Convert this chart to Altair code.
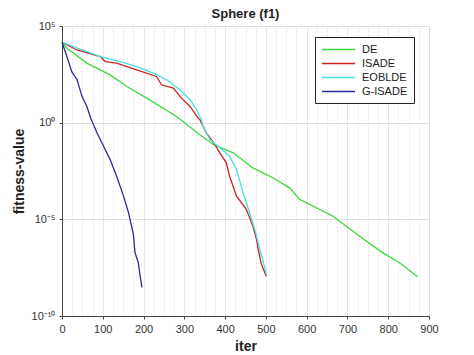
import altair as alt
import pandas as pd

series_names = ["DE", "ISADE", "EOBLDE", "G-ISADE"]
colors = ["#3fd83f", "#cc2222", "#44e0e0", "#2a2a9c"]

de_iter = [0, 12, 61, 118, 159, 208, 281, 338, 371, 420, 468, 517, 558, 583, 631, 664, 729, 786, 827, 872]
de_log = [4.16, 3.85, 3.08, 2.47, 1.87, 1.27, 0.32, -0.62, -1.13, -1.56, -2.34, -2.85, -3.37, -3.97, -4.48, -4.83, -5.86, -6.72, -7.23, -7.97]

isade_iter = [0, 37, 94, 106, 134, 183, 232, 244, 273, 293, 314, 334, 338, 354, 375, 387, 403, 411, 428, 452, 468, 477, 481, 489, 501]
isade_log = [4.16, 3.76, 3.42, 3.16, 3.08, 2.73, 2.39, 1.96, 1.79, 1.27, 0.84, 0.24, 0.15, -0.53, -1.13, -1.56, -2.08, -2.77, -3.80, -4.48, -5.35, -6.03, -6.55, -7.32, -7.95]

eob_iter = [0, 61, 94, 143, 183, 224, 257, 289, 314, 330, 342, 346, 363, 387, 411, 428, 444, 460, 475, 485, 494, 501]
eob_log = [4.16, 3.68, 3.42, 3.16, 2.90, 2.56, 2.22, 1.70, 1.19, 0.67, 0.15, -0.19, -0.88, -1.30, -1.73, -2.42, -3.62, -4.65, -5.69, -6.55, -7.23, -7.84]

gis_iter = [0, 12, 24, 37, 49, 61, 71, 86, 102, 118, 134, 151, 163, 175, 179, 187, 191, 196]
gis_log = [4.16, 3.42, 2.64, 2.22, 1.36, 0.84, 0.20, -0.53, -1.22, -1.91, -2.77, -3.80, -4.65, -5.77, -6.72, -7.23, -7.84, -8.52]

x_ticks = list(range(0, 901, 25))
y_ticks = [1e-10, 1e-5, 1, 1e5]

rows = []
for name, xs, ls in [("DE", de_iter, de_log), ("ISADE", isade_iter, isade_log),
                     ("EOBLDE", eob_iter, eob_log), ("G-ISADE", gis_iter, gis_log)]:
    for i, (x, l) in enumerate(zip(xs, ls)):
        rows.append({"series": name, "iter": x, "value": 10 ** l, "idx": i})
df = pd.DataFrame(rows)

FONT = "Liberation Sans"

xscale = alt.Scale(domain=[0, 900], nice=False)
yscale = alt.Scale(type="log", domain=[1e-10, 1e5], nice=False)

label_expr = ("datum.value >= 1e4 ? '10⁵' : datum.value >= 0.5 ? '10⁰' : "
              "datum.value >= 1e-6 ? '10⁻⁵' : '10⁻¹⁰'")

major = "datum.value % 100 === 0"

lines = alt.Chart(df).mark_line(strokeWidth=1.3).encode(
    x=alt.X("iter:Q", scale=xscale,
            axis=alt.Axis(values=x_ticks, title="iter", grid=True,
                          gridColor=alt.condition(major, alt.value("#dedede"), alt.value("#e4e4e4")),
                          gridDash=alt.condition(major, alt.value([1, 0]), alt.value([2, 2])),
                          labelExpr="datum.value % 100 === 0 ? datum.label : ''",
                          tickSize=alt.condition(major, alt.value(3), alt.value(0)),
                          tickColor="#444", domainColor="#444",
                          labelFont=FONT, labelFontSize=11, labelColor="#333",
                          labelPadding=4, labelFlush=False, titleFont=FONT, titleFontSize=14,
                          titleFontWeight="bold", titleColor="#222", titlePadding=5)),
    y=alt.Y("value:Q", scale=yscale,
            axis=alt.Axis(values=y_ticks, title="fitness-value", grid=True, gridColor="#dedede",
                          labelExpr=label_expr, tickColor="#444", tickSize=3, domainColor="#444",
                          labelFont=FONT, labelFontSize=11, labelColor="#333",
                          labelPadding=4, labelFlush=False, titleFont=FONT, titleFontSize=14,
                          titleFontWeight="bold", titleColor="#222", titlePadding=5)),
    color=alt.Color("series:N", scale=alt.Scale(domain=series_names, range=colors),
                    sort=series_names,
                    legend=alt.Legend(title=None, orient="none", legendX=253, legendY=11,
                                      symbolType="M-1,0H5", symbolSize=121, symbolStrokeWidth=1.5,
                                      strokeColor="#222", fillColor="white", padding=6,
                                      labelFont=FONT, labelFontSize=11, labelColor="#222",
                                      rowPadding=2, labelOffset=28)),
    order=alt.Order("idx:Q"),
)

chart = lines.properties(
    width=367, height=290,
    title=alt.Title("Sphere (f1)", font=FONT, fontSize=13, fontWeight="bold", color="#222", offset=-1),
    autosize=alt.AutoSizeParams(type="none"),
    padding={"left": 62, "top": 26, "right": 45, "bottom": 39},
).configure_view(stroke="#bbbbbb", strokeWidth=1).configure(background="white")

chart.save("out.html", embed_options={"renderer": "svg", "actions": False})
